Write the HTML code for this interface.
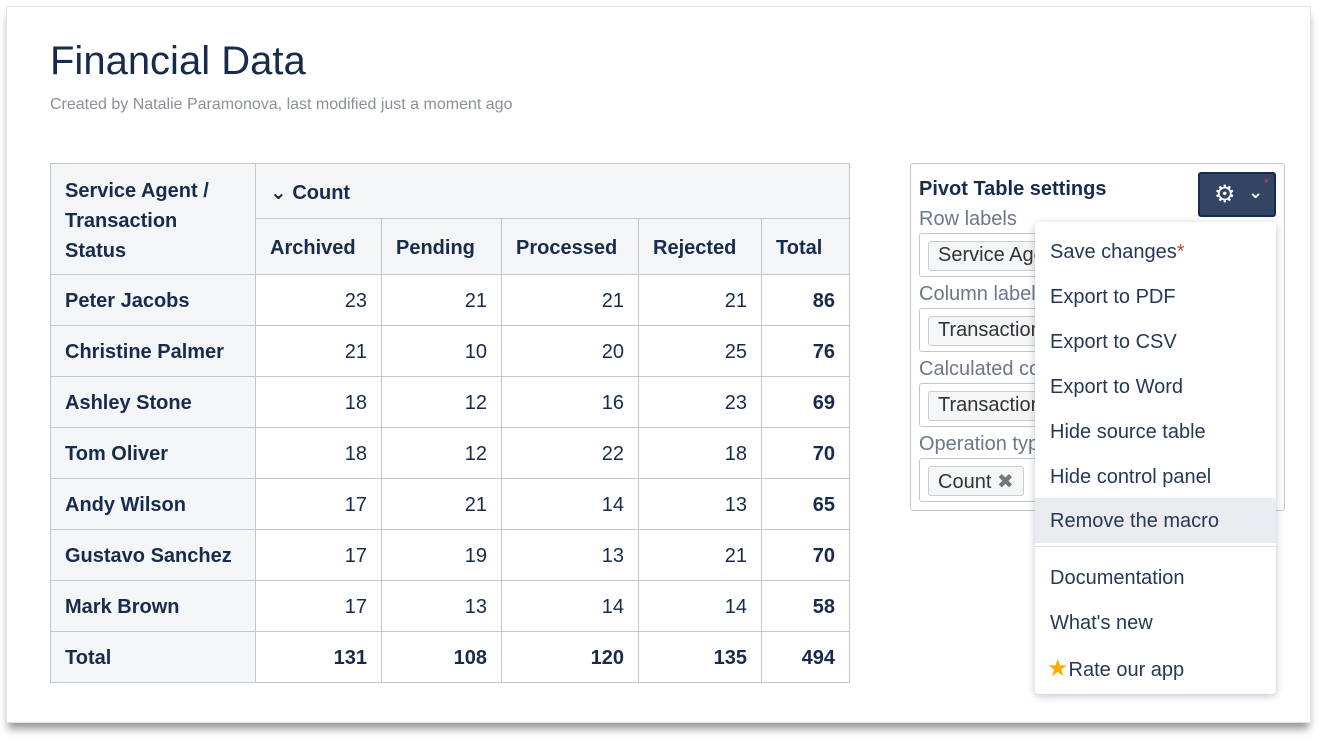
<!DOCTYPE html>
<html><head><style>
*{box-sizing:border-box;margin:0;padding:0}
body{width:1325px;height:753px;background:#fff;position:relative;overflow:hidden;font-family:"Liberation Sans","DejaVu Sans",sans-serif;color:#172b4d}
.card{position:absolute;left:6px;top:6px;width:1305px;height:717px;background:#fff;border:1px solid #e2e2e2;box-shadow:0 8px 8px -2px #999}
.abs{position:absolute}
h1{position:absolute;left:50px;top:39px;font-size:40px;font-weight:normal;color:#172b4d}
.sub{left:50px;top:96px;font-size:16px;color:#8a8f9a}
table{position:absolute;left:50px;top:163px;border-collapse:collapse;font-size:20px}
td,th{border:1px solid #c1c7d0;padding:3px 14px 0}
th{background:#f4f5f7;text-align:left;font-weight:bold}
td{text-align:right;height:51px}
td.n{background:#f4f5f7;text-align:left;font-weight:bold}
td.b{font-weight:bold}
.panel{left:910px;top:163px;width:375px;height:348px;border:1px solid #c1c7d0;border-radius:3px}
.lbl{font-size:20px;color:#6b778c;left:8px}
.box{left:8px;width:356px;height:44px;border:1px solid #c1c7d0;border-radius:3px}
.tag{left:8px;top:7px;height:30px;background:#f4f5f7;border:1px solid #ccc;border-radius:3px;font-size:20px;padding:2px 9px;color:#333;white-space:nowrap;overflow:hidden}
.btn{left:1198px;top:172px;width:78px;height:45px;background:#344563;border:2px solid #172b4d;border-radius:3px}
.menu{left:1035px;top:222px;width:241px;height:472px;background:#fff;border-radius:4px;box-shadow:0 2px 8px rgba(9,30,66,.25)}
.it{left:0;width:241px;height:45px;line-height:47px;padding-left:15px;font-size:20px;color:#253858}
</style></head><body>
<div class="card"></div>
<h1>Financial Data</h1>
<div class="abs sub">Created by Natalie Paramonova, last modified just a moment ago</div>
<table>
<tr style="height:55px"><th rowspan="2" style="width:205px;line-height:30px">Service Agent /<br>Transaction<br>Status</th><th colspan="5">⌄ Count</th></tr>
<tr style="height:56px"><th style="width:126px">Archived</th><th style="width:120px">Pending</th><th style="width:137px">Processed</th><th style="width:123px">Rejected</th><th style="width:88px">Total</th></tr>
<tr><td class="n">Peter Jacobs</td><td>23</td><td>21</td><td>21</td><td>21</td><td class="b">86</td></tr>
<tr><td class="n">Christine Palmer</td><td>21</td><td>10</td><td>20</td><td>25</td><td class="b">76</td></tr>
<tr><td class="n">Ashley Stone</td><td>18</td><td>12</td><td>16</td><td>23</td><td class="b">69</td></tr>
<tr><td class="n">Tom Oliver</td><td>18</td><td>12</td><td>22</td><td>18</td><td class="b">70</td></tr>
<tr><td class="n">Andy Wilson</td><td>17</td><td>21</td><td>14</td><td>13</td><td class="b">65</td></tr>
<tr><td class="n">Gustavo Sanchez</td><td>17</td><td>19</td><td>13</td><td>21</td><td class="b">70</td></tr>
<tr><td class="n">Mark Brown</td><td>17</td><td>13</td><td>14</td><td>14</td><td class="b">58</td></tr>
<tr><td class="n">Total</td><td class="b">131</td><td class="b">108</td><td class="b">120</td><td class="b">135</td><td class="b">494</td></tr>
</table>
<div class="abs panel">
<div class="abs" style="left:8px;top:14px;font-size:20px;font-weight:bold">Pivot Table settings</div>
<div class="abs lbl" style="top:44px">Row labels</div>
<div class="abs box" style="top:69px"><div class="abs tag">Service Agent</div></div>
<div class="abs lbl" style="top:119px">Column labels</div>
<div class="abs box" style="top:144px"><div class="abs tag">Transaction</div></div>
<div class="abs lbl" style="top:194px">Calculated column</div>
<div class="abs box" style="top:219px"><div class="abs tag">Transaction</div></div>
<div class="abs lbl" style="top:269px">Operation type</div>
<div class="abs box" style="top:294px"><div class="abs tag">Count <span style="color:#777">✖</span></div></div>
</div>
<div class="abs btn"><span class="abs" style="left:14px;top:6px;color:#fff;font-size:24px">⚙</span><span class="abs" style="left:48px;top:8px;color:#fff;font-size:18px;font-weight:bold">⌄</span><span class="abs" style="left:64px;top:2px;color:#d04437;font-size:12px">*</span></div>
<div class="abs menu">
<div class="abs it" style="top:7px">Save changes<span style="color:#d04437">*</span></div>
<div class="abs it" style="top:52px">Export to PDF</div>
<div class="abs it" style="top:97px">Export to CSV</div>
<div class="abs it" style="top:142px">Export to Word</div>
<div class="abs it" style="top:187px">Hide source table</div>
<div class="abs it" style="top:232px">Hide control panel</div>
<div class="abs it" style="top:276px;background:#ebecf0">Remove the macro</div>
<div class="abs" style="left:0;top:324px;width:241px;height:1px;background:#dfe1e6"></div>
<div class="abs it" style="top:333px">Documentation</div>
<div class="abs it" style="top:378px">What's new</div>
<div class="abs it" style="top:423px;padding-left:12px"><span style="color:#ffab00;font-size:24px">★</span>Rate our app</div>
</div>
</body></html>
